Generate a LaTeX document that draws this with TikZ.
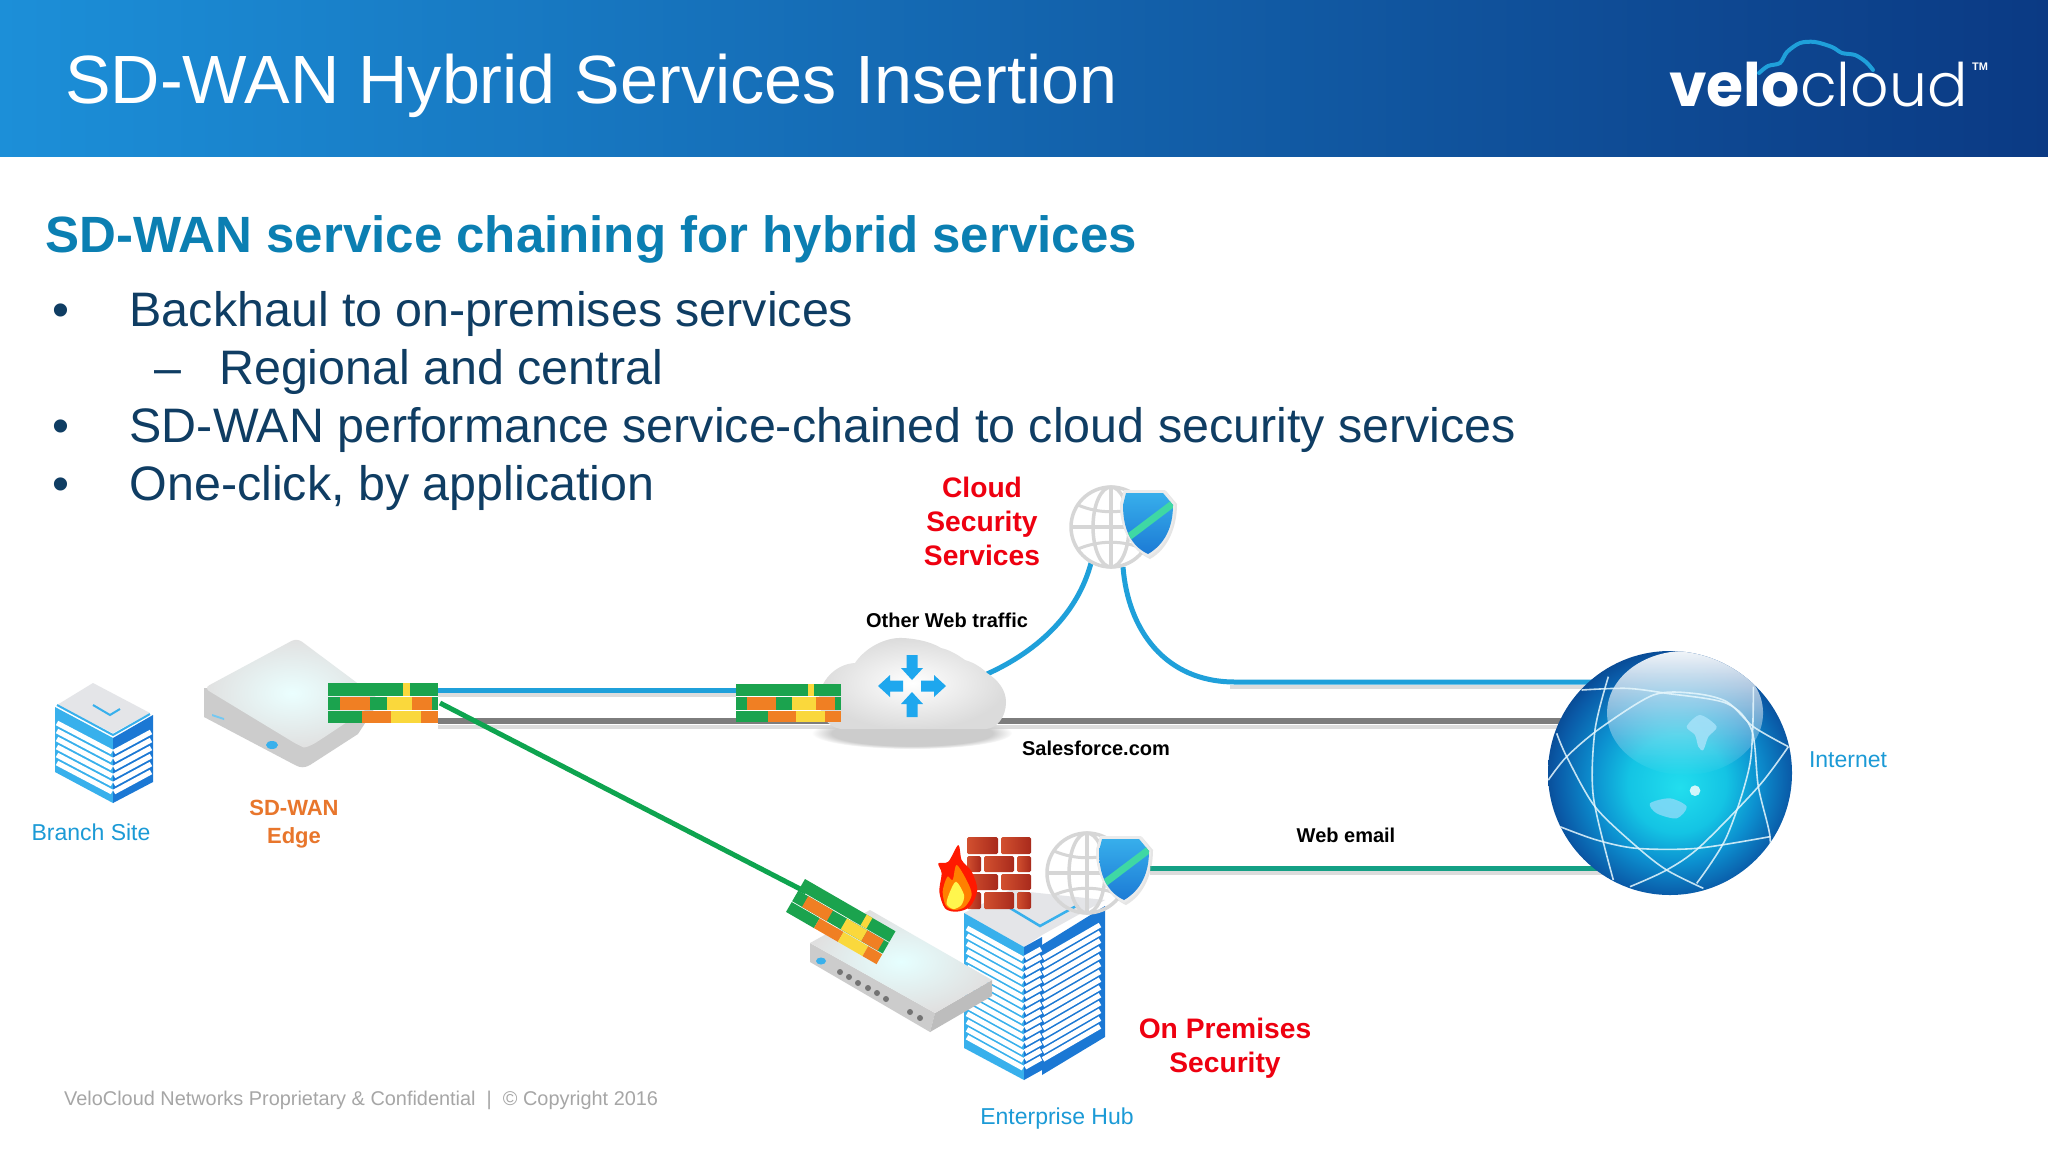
\documentclass[tikz,border=0pt]{standalone}
\usepackage{fontspec}
\setmainfont{Liberation Sans}
\newfontfamily\logolight{Poppins Light}
\newfontfamily\logobold{Poppins}[UprightFont=* Bold]
\usetikzlibrary{fadings,calc}
\definecolor{hdrL}{HTML}{1C8FD8}
\definecolor{hdrM}{HTML}{1272BC}
\definecolor{hdrR}{HTML}{0B3A84}
\definecolor{headc}{HTML}{0B7FB2}
\definecolor{bodyc}{HTML}{0F3D63}
\definecolor{labblue}{HTML}{1B9AD6}
\definecolor{laborange}{HTML}{E8762C}
\definecolor{labred}{HTML}{EE0010}
\definecolor{footc}{HTML}{A6A6A6}
\definecolor{linkblue}{HTML}{1FA0DA}
\definecolor{linkgrey}{HTML}{7D7D7D}
\definecolor{linkgreen}{HTML}{0EA44F}
\definecolor{linkteal}{HTML}{14A085}
\definecolor{bgreen}{HTML}{1BA34E}
\definecolor{borange}{HTML}{F07F23}
\definecolor{byellow}{HTML}{FAD83C}
\definecolor{wallL}{HTML}{38B0EC}
\definecolor{wallD}{HTML}{1B78D4}
\definecolor{roofc}{HTML}{E4E5E8}
\definecolor{globec}{HTML}{D6D6D6}
\definecolor{arrowc}{HTML}{1EA7EE}
\definecolor{bandc}{HTML}{3FD8A4}
\definecolor{brickL}{HTML}{D2502F}
\definecolor{brickR}{HTML}{A82A1C}
\definecolor{ballA}{HTML}{22DEEE}
\definecolor{ballB}{HTML}{14C4E4}
\definecolor{ballC}{HTML}{0C8FCF}
\definecolor{ballD}{HTML}{0A5BA8}
\definecolor{ballE}{HTML}{062A70}
\definecolor{ballF}{HTML}{04163F}
\pgfdeclareradialshading{ballshade}{\pgfpoint{2bp}{-3bp}}{%
 color(0bp)=(ballA);
 color(10bp)=(ballB);
 color(17bp)=(ballC);
 color(24bp)=(ballD);
 color(31bp)=(ballE);
 color(38bp)=(ballF)}
\tikzset{
 txt/.style={inner sep=0pt,align=center,font=\fontsize{23}{28}\selectfont},
 lblblue/.style={txt,text=labblue},
 lblorange/.style={txt,text=laborange,font=\fontsize{22}{28}\selectfont\bfseries},
 lblred/.style={txt,text=labred,font=\fontsize{28.2}{34}\selectfont\bfseries},
 lblblack/.style={txt,text=black,font=\fontsize{20}{24}\selectfont\bfseries},
 bodytxt/.style={inner sep=0pt,anchor=base west,text=bodyc,font=\fontsize{48.4}{58}\selectfont},
 spot/.style={inner sep=0pt,minimum size=1pt},
 linkb/.style={draw=linkblue,line width=5pt},
 linkshadow/.style={draw=black!30,line width=4pt,opacity=.45},
 white stripe/.style={draw=white,line width=5pt}
}
\newcommand{\brickrows}{%
 \fill[bgreen] (0,0) rectangle (110,13);
 \fill[byellow] (75,0) rectangle (82,13);
 \fill[bgreen] (0,14) rectangle (110,27);
 \fill[borange] (12,14) rectangle (42,27);
 \fill[byellow] (59,14) rectangle (84,27);
 \fill[borange] (84,14) rectangle (104,27);
 \fill[bgreen] (0,28) rectangle (34,40);
 \fill[borange] (34,28) rectangle (63,40);
 \fill[byellow] (63,28) rectangle (93,40);
 \fill[borange] (93,28) rectangle (110,40);
}
\newcommand{\stripes}[6]{%
 \foreach \i in {0,...,#5}{\draw[white stripe] (#1,{#2+\i*#6}) -- (#3,{#4+\i*#6});}%
}
\newcommand{\secglobe}[2]{%
 \begin{scope}[shift={(#1,#2)}]
  \draw[globec,line width=3.5pt] (0,0) circle (40);
  \draw[globec,line width=3.5pt] (0,-40) -- (0,40) (-40,0) -- (40,0);
  \draw[globec,line width=3.5pt] (0,0) ellipse (18 and 40);
  \draw[globec,line width=3pt] (-33,-22) .. controls (-12,-13) and (12,-13) .. (33,-22);
  \draw[globec,line width=3pt] (-33,22) .. controls (-12,13) and (12,13) .. (33,22);
  \path[fill=black!25,opacity=.4] (9,-23) -- (13,-36) -- (55,-36) -- (66,-23)
     .. controls (66,0) and (57,22) .. (39,32) .. controls (21,24) and (9,2) .. cycle;
  \path[fill=white!92!black] (9,-23) -- (13,-37) -- (54,-37) -- (64,-23)
     .. controls (64,0) and (55,20) .. (37,30) .. controls (20,22) and (9,2) .. cycle;
  \begin{scope}
   \clip (12,-22) -- (15,-34) -- (52,-34) -- (62,-22)
     .. controls (62,0) and (54,17) .. (37,27) .. controls (20,19) and (12,2) .. cycle;
   \shade[top color=wallL,bottom color=wallD] (8,-36) rectangle (66,30);
   \draw[draw=bandc,line width=7pt] (15,12) -- (64,-25);
  \end{scope}
 \end{scope}}
\begin{document}
\begin{tikzpicture}[x=1pt,y=-1pt]
\useasboundingbox (0,0) rectangle (2048,1152);
\fill[white] (0,0) rectangle (2048,1152);
% header
\shade[left color=hdrL,middle color=hdrM,right color=hdrR] (0,0) rectangle (2048,156.5);
\node[inner sep=0pt,anchor=base west,text=white,font=\fontsize{68.3}{80}\selectfont] (title) at (65,103) {SD-WAN Hybrid Services Insertion};
% logo
\node[inner sep=0pt,anchor=base west,text=white,font=\fontsize{60}{66}\logobold] (logoA) at (1669,106) {velo};
\node[inner sep=0pt,anchor=base west,text=white,font=\fontsize{60}{66}\logolight] (logoB) at (logoA.base east) {cloud};
\node[inner sep=0pt,anchor=base west,text=white,font=\fontsize{11}{12}\selectfont\bfseries] (logoTM) at (1972,70) {TM};
\draw[color=linkblue,line width=4pt,line cap=round] plot[smooth] coordinates {(1759,73) (1768,66) (1780,63) (1787,52) (1800,43) (1815,42) (1832,47) (1842,53) (1855,55) (1866,62) (1873,70)};
% heading and bullets
\node[inner sep=0pt,anchor=base west,text=headc,font=\fontsize{51}{58}\selectfont\bfseries] (heading) at (45.5,252) {SD-WAN service chaining for hybrid services};
\node[bodytxt] (b1dot) at (52,326) {•};
\node[bodytxt] (b1) at (129.5,326) {Backhaul to on-premises services};
\node[bodytxt] (b2dot) at (154,384) {–};
\node[bodytxt] (b2) at (219,384) {Regional and central};
\node[bodytxt] (b3dot) at (52,442) {•};
\node[bodytxt] (b3) at (129.5,442) {SD-WAN performance service-chained to cloud security services};
\node[bodytxt] (b4dot) at (52,500) {•};
\node[bodytxt] (b4) at (129.5,500) {One-click, by application};
% named anchors for connectors
\node[spot] (edgeBlue) at (438,690) {};
\node[spot] (edgeGrey) at (438,721) {};
\node[spot] (edgeGreen) at (440,703) {};
\node[spot] (wallBlue) at (736,690) {};
\node[spot] (routerGreen) at (806,892) {};
\node[spot] (cloudOut) at (987,674) {};
\node[spot] (secIn) at (1091,563) {};
\node[spot] (secOut) at (1123,567) {};
\node[spot] (netTop) at (1600,682) {};
\node[spot] (netMid) at (1570,721) {};
\node[spot] (netLow) at (1610,868) {};
\node[spot] (premOut) at (1150,868) {};
% connector shadows
\draw[linkshadow] ($(edgeBlue.center)+(0,5)$) -- ($(wallBlue.center)+(0,5)$);
\draw[linkshadow] ($(edgeGrey.center)+(0,6)$) -- ($(netMid.center)+(0,6)$);
\draw[linkshadow] ($(premOut.center)+(0,5)$) -- ($(netLow.center)+(0,5)$);
\draw[linkshadow] ($(netTop.center)+(-370,5)$) -- ($(netTop.center)+(0,5)$);
% connectors
\draw[draw=linkblue,line width=5pt] (edgeBlue.center) -- (wallBlue.center);
\draw[draw=linkgrey,line width=6pt] (edgeGrey.center) -- (netMid.center);
\draw[draw=linkgreen,line width=5pt] (edgeGreen.center) -- (routerGreen.center);
\draw[linkb] (cloudOut.center) .. controls (1040,650) and (1078,612) .. (secIn.center);
\draw[linkb] (secOut.center) .. controls (1128,630) and (1165,682) .. (1235,682) -- (netTop.center);
\draw[draw=linkteal,line width=5pt] (premOut.center) -- (netLow.center);
% branch site building
\fill[wallL] (55,707) -- (113,738) -- (113,803) -- (55,772) -- cycle;
\fill[wallD] (113,738) -- (153,715) -- (153,782) -- (113,803) -- cycle;
\fill[roofc] (93,683) -- (57,705) -- (113,733) -- (150,713) -- cycle;
\draw[color=wallL,line width=2pt] (57,705) -- (113,735) -- (150,714);
\draw[color=wallL,line width=2pt] (93,705) -- (110,715) -- (120,709);
\stripes{57}{723}{112}{752}{5}{8}
\stripes{114}{752}{151}{732}{5}{8}
% SD-WAN edge device
\filldraw[fill=black!20,draw=none] (204,688) -- (204,717) -- (295,765) .. controls (300,768) and (305,768) .. (310,765) -- (358,734) -- (380,700) -- cycle;
\shade[inner color=white!92!cyan,outer color=black!12,rounded corners=6pt] (297,638) -- (204,688) -- (298,745) .. controls (305,748) and (312,745) .. (320,740) -- (380,700) -- cycle;
\fill[wallL] (272,745) ellipse (6 and 4);
\fill[wallL!70] (212,716) -- (224,720) -- (224,718) -- (212,714) -- cycle;
\begin{scope}[shift={(328,683)}]\brickrows\end{scope}
% cloud router
\fill[black!20,path fading=circle with fuzzy edge 20 percent] (912,733) ellipse (100 and 16);
\shade[inner color=white,outer color=black!14]
 (841,729) .. controls (826,727) and (819,712) .. (819,700)
 .. controls (819,682) and (835,664) .. (855,663)
 .. controls (865,648) and (885,637) .. (903,638)
 .. controls (920,639) and (933,643) .. (941,648)
 .. controls (950,650) and (958,655) .. (965,660)
 .. controls (975,663) and (982,668) .. (987,673)
 .. controls (998,680) and (1006,690) .. (1006,702)
 .. controls (1006,716) and (998,728) .. (986,729) -- cycle;
\node[spot] (cloudRouter) at (912,686) {};
\begin{scope}[shift={(cloudRouter.center)}]
 \foreach \a in {0,180}{\fill[arrowc,rotate=\a] (9,-5.5) -- (22,-5.5) -- (22,-11) -- (34,0) -- (22,11) -- (22,5.5) -- (9,5.5) -- cycle;}
 \foreach \a in {90,-90}{\fill[arrowc,rotate=\a] (31,-5.5) -- (18,-5.5) -- (18,-11) -- (6,0) -- (18,11) -- (18,5.5) -- (31,5.5) -- cycle;}
\end{scope}
\begin{scope}[shift={(735.5,684)},scale=.96]\brickrows\end{scope}
% cloud security globe
\secglobe{1111}{527}
% enterprise hub towers
\fill[roofc] (964,913) -- (1010,890) -- (1105,900) -- (1042,935) -- (1024,947) -- cycle;
\fill[wallL] (964,913) -- (1024,947) -- (1024,1080) -- (964,1048) -- cycle;
\fill[wallD] (1024,947) -- (1042,937) -- (1042,1070) -- (1024,1080) -- cycle;
\fill[wallD] (1042,945) -- (1105,906) -- (1105,1037) -- (1042,1075) -- cycle;
\draw[color=wallL,line width=2.5pt] (1010,908) -- (1040,926) -- (1078,905);
\stripes{967}{928}{1023}{959}{14}{7.8}
\stripes{1025}{958}{1041}{949}{14}{7.8}
\stripes{1043}{958}{1100}{925}{13}{7.8}
% firewall
\foreach \xa/\xb/\ya/\yb in {967/998/837/854,1001/1031/837/854,967/981/856/872,984/1014/856/872,1017/1031/856/872,967/998/874/890,1001/1031/874/890,967/981/892/909,984/1014/892/909,1017/1031/892/909}{
 \shade[left color=brickL,right color=brickR,rounded corners=1.5pt] (\xa,\ya) rectangle (\xb,\yb);}
\begin{scope}[shift={(770,810)},scale=1/3]
 \fill[red!80!orange] plot[smooth cycle] coordinates {(565,105) (575,150) (605,185) (622,240) (600,290) (560,305) (525,295) (508,245) (515,190) (505,160) (535,155)};
 \fill[orange] plot[smooth cycle] coordinates {(560,165) (592,215) (605,255) (585,290) (555,300) (528,288) (518,245) (532,200) (548,210)};
 \fill[yellow!70!white] plot[smooth cycle] coordinates {(558,215) (582,255) (574,285) (550,297) (530,282) (538,250)};
\end{scope}
\secglobe{1087}{873}
% branch router
\fill[black!20] (810,943) -- (935,1013) -- (930,1032) -- (810,962) -- cycle;
\fill[black!26] (935,1013) -- (992,980) -- (992,996) -- (930,1032) -- cycle;
\shade[inner color=white!90!cyan,outer color=black!12] (810,943) -- (870,910) -- (992,980) -- (935,1013) -- cycle;
\fill[wallL] (821,961) ellipse (5 and 3.5);
\foreach \px/\py in {840/972,849/977,858/983,868/988,877/993,886/999,910/1012,920/1018}{\fill[black!55] (\px,\py) circle (3);}
\begin{scope}[shift={(805,879)},rotate=-30,scale=.95]\brickrows\end{scope}
% internet globe
\shade[shading=ballshade] (1670,773) circle (122);
\begin{scope}
 \clip (1670,773) circle (122);
 \fill[white,opacity=.95,path fading=south] (1685,713) ellipse (78 and 62);
 \begin{scope}[shift={(1520,630)},scale=1/3]
  \fill[cyan!35!white,opacity=.85] plot[smooth cycle] coordinates {(500,290) (540,255) (590,290) (565,320) (550,360) (535,350) (525,315)};
  \fill[cyan!45!white,opacity=.8] plot[smooth cycle] coordinates {(390,520) (450,505) (500,530) (470,565) (410,550)};
  \fill[white,opacity=.8] (525,482) circle (16);
  \foreach \pts in {{(110,310) (140,380) (225,530) (350,650) (440,720) (550,775)},
    {(85,450) (140,380) (240,295) (400,195) (520,190) (620,215) (700,290) (805,350)},
    {(185,180) (320,175) (440,190) (620,220) (695,300) (715,470) (750,620) (745,720)},
    {(120,590) (230,630) (350,655) (530,655) (750,620)},
    {(265,140) (225,300) (220,500) (280,750)},
    {(330,770) (440,720) (540,650) (715,470) (805,350)},
    {(530,760) (620,620) (690,400) (700,170)}}{
   \draw[white!90!cyan,line width=1.6pt,opacity=.85] plot[smooth] coordinates {\pts};}
 \end{scope}
\end{scope}
% labels
\node[lblblue] (branch) at (91,832) {Branch Site};
\node[lblorange] (edge) at (294,824.5) {SD-WAN\\Edge};
\node[lblred] (cloudsec) at (982,521) {Cloud\\Security\\Services};
\node[lblblack] (other) at (947,620) {Other Web traffic};
\node[lblblack] (sf) at (1096,748) {Salesforce.com};
\node[lblblack] (webmail) at (1346,835) {Web email};
\node[lblblue] (internet) at (1848,760) {Internet};
\node[lblred] (onprem) at (1225,1048) {On Premises\\Security};
\node[lblblue] (hub) at (1057,1119) {Enterprise Hub};
\node[inner sep=0pt,anchor=west,text=footc,font=\fontsize{19.9}{24}\selectfont] (foot) at (64,1100) {VeloCloud Networks Proprietary \& Confidential\ \ |\ \ © Copyright 2016};
\end{tikzpicture}
\end{document}
